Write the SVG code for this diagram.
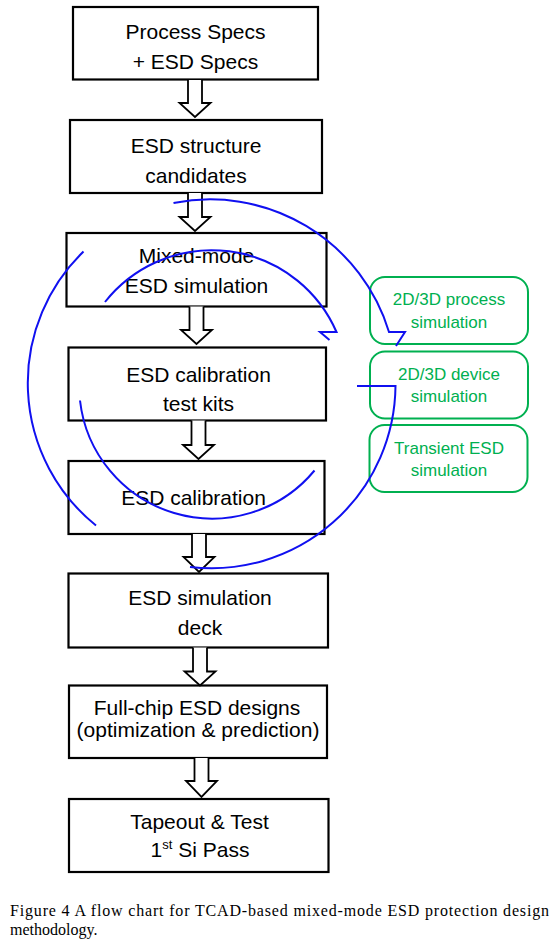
<svg xmlns="http://www.w3.org/2000/svg" width="557" height="942" viewBox="0 0 557 942">
<style>
.box{fill:#fff;stroke:#000;stroke-width:2.2}
.gbox{fill:#fff;stroke:#00B050;stroke-width:2}
.t{font-family:"Liberation Sans",Arial,sans-serif;font-size:21px;fill:#000;text-anchor:middle}
.g{font-family:"Liberation Sans",Arial,sans-serif;font-size:17px;fill:#00B050;text-anchor:middle}
.arr{fill:#fff;stroke:#000;stroke-width:1.8;stroke-linejoin:miter}
.cyc{fill:none;stroke:#1010F0;stroke-width:2}
.cap{font-family:"Liberation Serif","Times New Roman",serif;font-size:16px;fill:#000}
</style>
<rect width="557" height="942" fill="#fff"/>

<g id="n1"><rect class="box" x="73" y="7" width="245" height="72.5"/>
<text class="t" x="195.5" y="39">Process Specs</text><text class="t" x="195.5" y="69">+ ESD Specs</text></g>
<g id="n2"><rect class="box" x="70" y="120" width="252" height="73"/>
<text class="t" x="196" y="153">ESD structure</text><text class="t" x="196" y="182.5">candidates</text></g>
<g id="n3"><rect class="box" x="66.5" y="233" width="260" height="73.5"/>
<text class="t" x="196.5" y="263">Mixed-mode</text><text class="t" x="196.5" y="292.5">ESD simulation</text></g>
<g id="n4"><rect class="box" x="68.5" y="347.5" width="257.5" height="73"/>
<text class="t" x="198.5" y="381.5">ESD calibration</text><text class="t" x="198.5" y="411">test kits</text></g>
<g id="n5"><rect class="box" x="68.5" y="461" width="256" height="73"/>
<text class="t" x="193.5" y="504.5">ESD calibration</text></g>
<g id="n6"><rect class="box" x="68.5" y="573.5" width="259.5" height="74"/>
<text class="t" x="200" y="605">ESD simulation</text><text class="t" x="200" y="635">deck</text></g>
<g id="n7"><rect class="box" x="69" y="685.5" width="258" height="72.5"/>
<text class="t" x="197" y="715">Full-chip ESD designs</text><text class="t" x="198" y="737">(optimization &amp; prediction)</text></g>
<g id="n8"><rect class="box" x="69" y="799" width="259.5" height="73"/>
<text class="t" x="199.5" y="828.5">Tapeout &amp; Test</text><text class="t" x="200" y="857">1<tspan font-size="13" dy="-8">st</tspan><tspan dy="8"> Si Pass</tspan></text></g>

<g id="g1"><rect class="gbox" x="370" y="277" width="158" height="67" rx="15"/>
<text class="g" x="449" y="305">2D/3D process</text><text class="g" x="449" y="327.5">simulation</text></g>
<g id="g2"><rect class="gbox" x="370" y="351.5" width="158" height="67" rx="15"/>
<text class="g" x="449" y="379.5">2D/3D device</text><text class="g" x="449" y="401.5">simulation</text></g>
<g id="g3"><rect class="gbox" x="369.5" y="425" width="158" height="67" rx="15"/>
<text class="g" x="449" y="454">Transient ESD</text><text class="g" x="449" y="475.5">simulation</text></g>

<g id="connectors">
<path class="arr" d="M188 80 V103 H179.5 L195 117 L210.5 103 H202 V80"/>
<path class="arr" d="M188 193 V217 H179.5 L195 231 L210.5 217 H202 V193"/>
<path class="arr" d="M189.5 306.5 V330 H181 L196.5 344 L212 330 H203.5 V306.5"/>
<path class="arr" d="M191.5 420.5 V445 H183 L198.5 459 L214 445 H205.5 V420.5"/>
<path class="arr" d="M192 534 V557 H183.5 L199 572 L214.5 557 H206 V534"/>
<path class="arr" d="M193 647.5 V671.5 H184.5 L200 685.5 L215.5 671.5 H207 V647.5"/>
<path class="arr" d="M194.5 758 V781 H186 L201.5 797 L217 781 H208.5 V758"/>
</g>

<g id="cycle">
<path class="cyc" d="M173.5 203 A187 187 0 0 1 389 332 L405 332 L396 346"/>
<path class="cyc" d="M105 302 A136 136 0 0 1 336.5 332 L320 332 L329.5 340"/>
<path class="cyc" d="M83.5 251.5 A183 183 0 0 0 96 525.5"/>
<path class="cyc" d="M80 400.5 A133 133 0 0 0 314.5 470.5"/>
<path class="cyc" d="M357 386 L395.5 386 A184 184 0 0 1 190 567"/>
</g>

<g id="caption">
<text class="cap" x="10" y="916" textLength="539" lengthAdjust="spacing">Figure 4 A flow chart for TCAD-based mixed-mode ESD protection design</text>
<text class="cap" x="10" y="935">methodology.</text>
</g>
</svg>
